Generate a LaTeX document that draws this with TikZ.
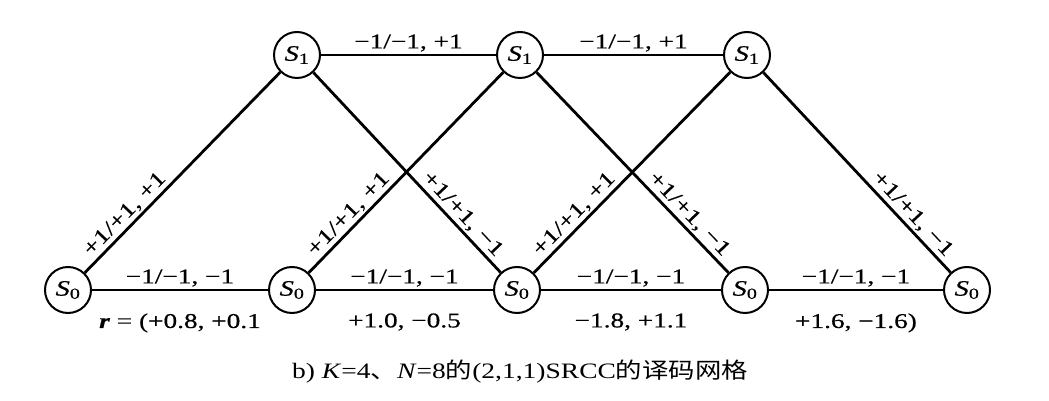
\documentclass[tikz,border=0pt]{standalone}
\usepackage{fontspec}
\setmainfont{Liberation Serif}
\newfontfamily\lblfont[FakeStretch=1.3, FakeBold=0.6]{Liberation Serif}
\newfontfamily\capfont[FakeStretch=1.25]{Liberation Serif}
\newfontfamily\cjk[FakeStretch=1.2]{Noto Sans CJK SC}
\newcommand{\stlbl}[1]{\textit{S}\textsubscript{#1}}
\tikzset{
  state/.style={circle, draw, line width=2pt, minimum size=46pt, inner sep=0pt,
    fill=white, font=\lblfont\fontsize{22}{24}\selectfont},
  branch/.style={line width=2.8pt},
  lbl/.style={font=\lblfont\fontsize{21}{24}\selectfont, inner sep=2pt}
}

\begin{document}
\begin{tikzpicture}[x=1pt, y=1pt]
            \useasboundingbox (0,0) rectangle (1049,401);
            % lower row
            \node[state] (a0) at (68,111) {\stlbl{0}};
            \node[state] (a1) at (292,111) {\stlbl{0}};
            \node[state] (a2) at (517,111) {\stlbl{0}};
            \node[state] (a3) at (745,111) {\stlbl{0}};
            \node[state] (a4) at (967,111) {\stlbl{0}};
            % upper row
            \node[state] (b1) at (297,346) {\stlbl{1}};
            \node[state] (b2) at (520,346) {\stlbl{1}};
            \node[state] (b3) at (747,346) {\stlbl{1}};
            % horizontal branches
            \draw[branch] (a0) -- node[lbl, above]{−1/−1, −1}
                  node[lbl, below=20pt]{\textbf{\textit{r}} = (+0.8, +0.1} (a1);
            \draw[branch] (a1) -- node[lbl, above]{−1/−1, −1}
                  node[lbl, below=20pt]{+1.0, −0.5} (a2);
            \draw[branch] (a2) -- node[lbl, above]{−1/−1, −1}
                  node[lbl, below=20pt]{−1.8, +1.1} (a3);
            \draw[branch] (a3) -- node[lbl, above]{−1/−1, −1}
                  node[lbl, below=20pt]{+1.6, −1.6)} (a4);
            \draw[branch] (b1) -- node[lbl, above]{−1/−1, +1} (b2);
            \draw[branch] (b2) -- node[lbl, above]{−1/−1, +1} (b3);
            % diagonal branches
            \draw[branch] (a0) -- node[lbl, pos=0.25, sloped, above]{+1/+1, +1} (b1);
            \draw[branch] (a1) -- node[lbl, pos=0.25, sloped, above]{+1/+1, +1} (b2);
            \draw[branch] (a2) -- node[lbl, pos=0.25, sloped, above]{+1/+1, +1} (b3);
            \draw[branch] (b1) -- node[lbl, pos=0.75, sloped, above]{+1/+1, −1} (a2);
            \draw[branch] (b2) -- node[lbl, pos=0.75, sloped, above]{+1/+1, −1} (a3);
            \draw[branch] (b3) -- node[lbl, pos=0.75, sloped, above]{+1/+1, −1} (a4);
            % caption
            \node[font=\capfont\fontsize{22}{24}\selectfont] (cap) at (520,29)
                  {b) \textit{K}=4{\cjk 、}\textit{N}=8{\cjk 的}(2,1,1)SRCC{\cjk 的译码网格}};
        \end{tikzpicture}
\end{document}
